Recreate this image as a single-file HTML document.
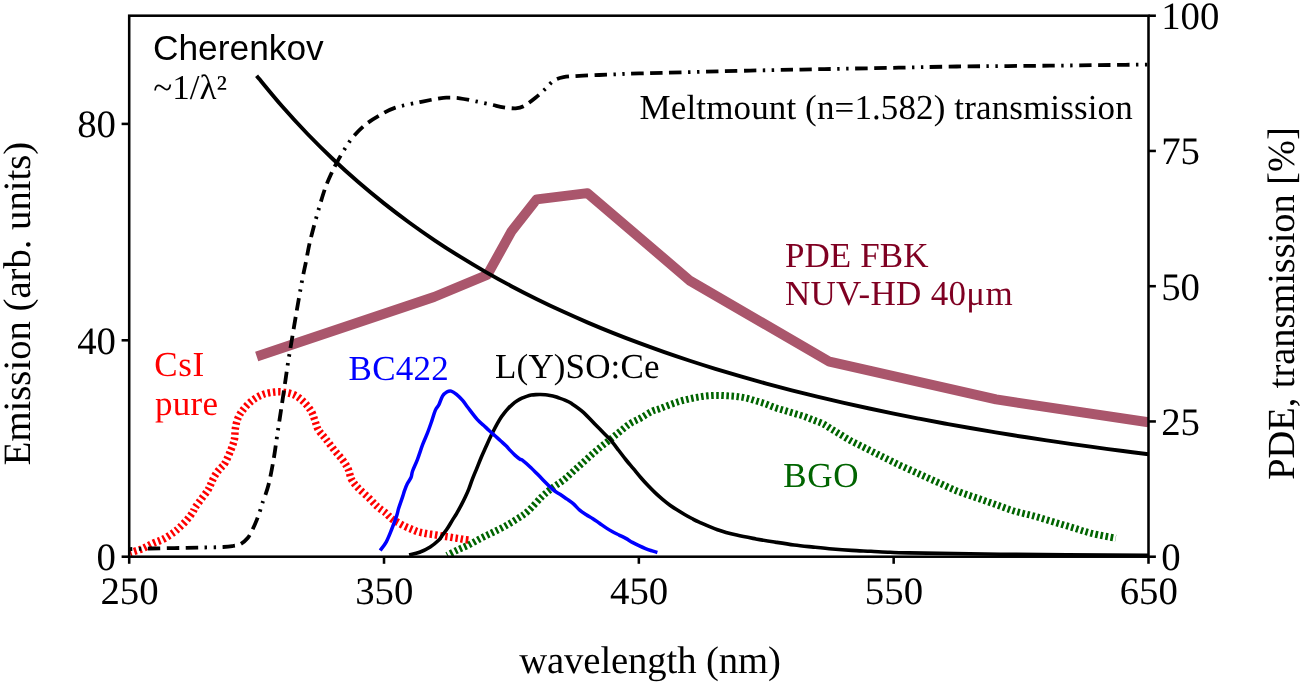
<!DOCTYPE html>
<html><head><meta charset="utf-8"><style>
html,body{margin:0;padding:0;background:#fff;width:1304px;height:684px;overflow:hidden}
svg{display:block;will-change:transform}
.serif{font-family:"Liberation Serif",serif;text-rendering:geometricPrecision}
.sans{font-family:"Liberation Sans",sans-serif}
</style></head><body>
<svg width="1304" height="684" viewBox="0 0 1304 684">
<rect width="1304" height="684" fill="#fff"/>
<defs><clipPath id="ax"><rect x="129.2" y="15.7" width="1019.3" height="541"/></clipPath></defs>
<g clip-path="url(#ax)" fill="none" stroke-linejoin="round">
<path d="M256.7 356.5 L434 297 L487.5 274.7 L511.2 231.8 L536.7 199.3 L587.5 193.2 L690.2 280.9 L829.5 361.7 L996.1 399.4 L1148.5 422.3" stroke="#aa566c" stroke-width="9.9" stroke-linecap="butt"/>
<path d="M129.9 552.8 C132.02 552.08 138.72 550.1 142.6 548.5 C146.48 546.9 149.68 544.8 153.2 543.2 C156.72 541.6 160.35 540.65 163.7 538.9 C167.05 537.15 170.67 534.6 173.3 532.7 C175.93 530.8 177.3 529.55 179.5 527.5 C181.7 525.45 184.32 522.9 186.5 520.4 C188.68 517.9 191.17 514.65 192.6 512.5 C194.03 510.35 193.7 509.67 195.1 507.5 C196.5 505.33 198.93 502.3 201 499.5 C203.07 496.7 205.92 493.13 207.5 490.7 C209.08 488.27 209.52 486.97 210.5 484.9 C211.48 482.83 212.32 480.38 213.4 478.3 C214.48 476.22 215.78 474.12 217 472.4 C218.22 470.68 219.35 469.58 220.7 468 C222.05 466.42 223.4 465.92 225.1 462.9 C226.8 459.88 229.35 453.82 230.9 449.9 C232.45 445.98 233.67 442.9 234.4 439.4 C235.13 435.9 234.72 432.42 235.3 428.9 C235.88 425.38 236.58 421.52 237.9 418.3 C239.22 415.08 240.87 412.52 243.2 409.6 C245.53 406.68 248.68 403.3 251.9 400.8 C255.12 398.3 258.7 396.07 262.5 394.6 C266.3 393.13 270.9 392.37 274.7 392 C278.5 391.63 281.83 391.82 285.3 392.4 C288.77 392.98 292.33 393.82 295.5 395.5 C298.67 397.18 301.67 399.87 304.3 402.5 C306.93 405.13 309.55 408.37 311.3 411.3 C313.05 414.23 313.63 417.03 314.8 420.1 C315.97 423.17 316.53 426.63 318.3 429.7 C320.07 432.77 322.77 435.13 325.4 438.5 C328.03 441.87 331.18 446.25 334.1 449.9 C337.02 453.55 340.55 457.18 342.9 460.4 C345.25 463.62 346.73 465.98 348.2 469.2 C349.67 472.42 349.95 476.48 351.7 479.7 C353.45 482.92 355.85 485.47 358.7 488.5 C361.55 491.53 365.67 494.87 368.8 497.9 C371.93 500.93 374.68 504.2 377.5 506.7 C380.32 509.2 383.72 511.25 385.7 512.9 C387.68 514.55 388.18 515.48 389.4 516.6 C390.62 517.72 391.42 518.52 393 519.6 C394.58 520.68 396.93 521.98 398.9 523.1 C400.87 524.22 403 525.42 404.8 526.3 C406.6 527.18 408.17 527.75 409.7 528.4 C411.23 529.05 412.57 529.62 414 530.2 C415.43 530.78 416.77 531.43 418.3 531.9 C419.83 532.37 421.57 532.67 423.2 533 C424.83 533.33 426.35 533.63 428.1 533.9 C429.85 534.17 431.85 534.33 433.7 534.6 C435.55 534.87 437.47 535.22 439.2 535.5 C440.93 535.78 442.47 536.05 444.1 536.3 C445.73 536.55 447.37 536.75 449 537 C450.63 537.25 452.27 537.55 453.9 537.8 C455.53 538.05 457.17 538.23 458.8 538.5 C460.43 538.77 461.9 539.13 463.7 539.4 C465.5 539.67 468.62 539.98 469.6 540.1" stroke="#ff0000" stroke-width="7.5" stroke-dasharray="2.45 2.75" stroke-dashoffset="0.7"/>
<path d="M447 555.3 C448.75 554.42 453.8 551.77 457.5 550 C461.2 548.23 465.3 546.65 469.2 544.7 C473.1 542.75 477 540.33 480.9 538.3 C484.8 536.27 488.7 534.45 492.6 532.5 C496.5 530.55 500.4 528.75 504.3 526.6 C508.2 524.45 512.1 522.13 516 519.6 C519.9 517.07 523.38 515.22 527.7 511.4 C532.02 507.58 537.7 500.68 541.9 496.7 C546.1 492.72 549.23 490.32 552.9 487.5 C556.57 484.68 560.25 482.73 563.9 479.8 C567.55 476.87 571.15 473.2 574.8 469.9 C578.45 466.6 582.13 463.28 585.8 460 C589.47 456.72 593.15 453.3 596.8 450.2 C600.45 447.1 604.05 444.33 607.7 441.4 C611.35 438.47 615.05 435.52 618.7 432.6 C622.35 429.68 625.95 426.32 629.6 423.9 C633.25 421.48 636.93 420.17 640.6 418.1 C644.27 416.03 648.37 413.08 651.6 411.5 C654.83 409.92 657 409.72 660 408.6 C663 407.48 666.4 405.98 669.6 404.8 C672.8 403.62 676 402.47 679.2 401.5 C682.4 400.53 685.62 399.73 688.8 399 C691.98 398.27 695.12 397.63 698.3 397.1 C701.48 396.57 704.7 396.08 707.9 395.8 C711.1 395.52 714.3 395.4 717.5 395.4 C720.7 395.4 723.9 395.62 727.1 395.8 C730.3 395.98 733.5 396.12 736.7 396.5 C739.9 396.88 743.1 397.37 746.3 398.1 C749.5 398.83 752.72 399.95 755.9 400.9 C759.08 401.85 762.22 402.68 765.4 403.8 C768.58 404.92 771.8 406.48 775 407.6 C778.2 408.72 781.4 409.53 784.6 410.5 C787.8 411.47 791 412.43 794.2 413.4 C797.4 414.37 800.6 415.18 803.8 416.3 C807 417.42 810.2 418.83 813.4 420.1 C816.6 421.37 819.82 422.3 823 423.9 C826.18 425.5 829.32 427.75 832.5 429.7 C835.68 431.65 838.9 433.67 842.1 435.6 C845.3 437.53 848.5 439.55 851.7 441.3 C854.9 443.05 858.1 444.5 861.3 446.1 C864.5 447.7 867.7 449.3 870.9 450.9 C874.1 452.5 877.3 454.1 880.5 455.7 C883.7 457.3 886.85 458.9 890.1 460.5 C893.35 462.1 895.15 463.05 900 465.3 C904.85 467.55 912.82 471.12 919.2 474 C925.58 476.88 931.92 479.73 938.3 482.6 C944.68 485.47 951.1 488.65 957.5 491.2 C963.9 493.75 970.3 495.67 976.7 497.9 C983.1 500.13 989.52 502.37 995.9 504.6 C1002.28 506.83 1008.62 509.38 1015 511.3 C1021.38 513.22 1027.8 514.33 1034.2 516.1 C1040.6 517.87 1047.02 519.98 1053.4 521.9 C1059.78 523.82 1066.12 525.68 1072.5 527.6 C1078.88 529.52 1084.5 531.63 1091.7 533.4 C1098.9 535.17 1111.7 537.4 1115.7 538.2" stroke="#006400" stroke-width="7" stroke-dasharray="2.55 2.53" stroke-dashoffset="1.24"/>
<path d="M409.1 554.9 C410.85 554.47 416.08 553.62 419.6 552.3 C423.12 550.98 426.98 549.05 430.2 547 C433.42 544.95 436.97 541.82 438.9 540 C440.83 538.18 440.45 537.92 441.8 536.1 C443.15 534.28 445.25 531.72 447 529.1 C448.75 526.48 450.68 523.03 452.3 520.4 C453.92 517.77 455.23 515.8 456.7 513.3 C458.17 510.8 459.65 508.17 461.1 505.4 C462.55 502.63 464.1 499.47 465.4 496.7 C466.7 493.93 467.75 491.68 468.9 488.8 C470.05 485.92 470.97 482.85 472.3 479.4 C473.63 475.95 475.37 471.87 476.9 468.1 C478.43 464.33 480.05 460.22 481.5 456.8 C482.95 453.38 484.23 450.67 485.6 447.6 C486.97 444.53 488.33 441.3 489.7 438.4 C491.07 435.5 492.53 432.67 493.8 430.2 C495.07 427.73 496.13 425.68 497.3 423.6 C498.47 421.52 499.62 419.5 500.8 417.7 C501.98 415.9 503.22 414.3 504.4 412.8 C505.58 411.3 506.55 410.12 507.9 408.7 C509.25 407.28 510.95 405.62 512.5 404.3 C514.05 402.98 515.63 401.82 517.2 400.8 C518.77 399.78 520.33 398.93 521.9 398.2 C523.47 397.47 525.03 396.92 526.6 396.4 C528.17 395.88 529.75 395.4 531.3 395.1 C532.85 394.8 534.35 394.7 535.9 394.6 C537.45 394.5 539.03 394.47 540.6 394.5 C542.17 394.53 543.73 394.63 545.3 394.8 C546.87 394.97 548.45 395.23 550 395.5 C551.55 395.77 553.3 396.07 554.6 396.4 C555.9 396.73 556.08 396.88 557.8 397.5 C559.52 398.12 562.58 399.08 564.9 400.1 C567.22 401.12 568.62 401.57 571.7 403.6 C574.78 405.63 579.22 408.55 583.4 412.3 C587.58 416.05 592.75 421.98 596.8 426.1 C600.85 430.22 605.25 434.52 607.7 437 C610.15 439.48 609.65 438.75 611.5 441 C613.35 443.25 616.37 447.33 618.8 450.5 C621.23 453.67 623.67 456.97 626.1 460 C628.53 463.03 630.97 465.78 633.4 468.7 C635.83 471.62 638.27 474.68 640.7 477.5 C643.13 480.32 645.57 483.03 648 485.6 C650.43 488.17 652.87 490.6 655.3 492.9 C657.73 495.2 660.15 497.33 662.6 499.4 C665.05 501.47 667.55 503.52 670 505.3 C672.45 507.08 674.87 508.57 677.3 510.1 C679.73 511.63 682.17 513.1 684.6 514.5 C687.03 515.9 689.47 517.23 691.9 518.5 C694.33 519.77 694.93 520.23 699.2 522.1 C703.47 523.97 711.25 527.53 717.5 529.7 C723.75 531.87 730.3 533.57 736.7 535.1 C743.1 536.63 749.52 537.73 755.9 538.9 C762.28 540.07 768.62 541.08 775 542.1 C781.38 543.12 787.8 544.17 794.2 545 C800.6 545.83 807.02 546.43 813.4 547.1 C819.78 547.77 826.12 548.45 832.5 549 C838.88 549.55 845.3 550.02 851.7 550.4 C858.1 550.78 864.5 550.98 870.9 551.3 C877.3 551.62 883.72 552.03 890.1 552.3 C896.48 552.57 890.88 552.58 909.2 552.9 C927.52 553.22 960.12 553.82 1000 554.2 C1039.88 554.58 1123.75 555.03 1148.5 555.2" stroke="#000" stroke-width="3.6"/>
<path d="M380.2 550.5 C381.22 549.05 384.4 545.3 386.3 541.8 C388.2 538.3 389.85 533.9 391.6 529.5 C393.35 525.1 395.63 518.9 396.8 515.4 C397.97 511.9 397.67 511.5 398.6 508.5 C399.53 505.5 401.37 500.5 402.4 497.4 C403.43 494.3 403.98 492.18 404.8 489.9 C405.62 487.62 406.27 485.77 407.3 483.7 C408.33 481.63 410.12 479.62 411 477.5 C411.88 475.38 411.52 474.03 412.6 471 C413.68 467.97 415.82 463.73 417.5 459.3 C419.18 454.87 421.03 448.8 422.7 444.4 C424.37 440 425.97 436.87 427.5 432.9 C429.03 428.93 430.58 424.4 431.9 420.6 C433.22 416.8 434.23 412.73 435.4 410.1 C436.57 407.47 437.72 407.13 438.9 404.8 C440.08 402.47 441.18 398.23 442.5 396.1 C443.82 393.97 445.35 392.83 446.8 392 C448.25 391.17 449.58 390.72 451.2 391.1 C452.82 391.48 454.6 392.75 456.5 394.3 C458.4 395.85 460.7 398.2 462.6 400.4 C464.5 402.6 465.43 404.3 467.9 407.5 C470.37 410.7 474.8 416.65 477.4 419.6 C480 422.55 481.55 423.38 483.5 425.2 C485.45 427.02 487.18 428.73 489.1 430.5 C491.02 432.27 493.05 434.05 495 435.8 C496.95 437.55 498.97 439.33 500.8 441 C502.63 442.67 504.43 444.23 506 445.8 C507.57 447.37 508.72 448.85 510.2 450.4 C511.68 451.95 513.27 453.63 514.9 455.1 C516.53 456.57 518.77 458.37 520 459.2 C521.23 460.03 520.47 458.68 522.3 460.1 C524.13 461.52 527.73 464.6 531 467.7 C534.27 470.8 538.25 475.05 541.9 478.7 C545.55 482.35 549.88 487 552.9 489.6 C555.92 492.2 557.72 492.75 560 494.3 C562.28 495.85 564.4 497.35 566.6 498.9 C568.8 500.45 571.02 501.73 573.2 503.6 C575.38 505.47 577.52 508.25 579.7 510.1 C581.88 511.95 584.1 513.27 586.3 514.7 C588.5 516.13 590.7 517.27 592.9 518.7 C595.1 520.13 597.3 521.77 599.5 523.3 C601.7 524.83 603.92 526.48 606.1 527.9 C608.28 529.32 610.42 530.6 612.6 531.8 C614.78 533 617 534 619.2 535.1 C621.4 536.2 623.6 537.18 625.8 538.4 C628 539.62 630.22 541.18 632.4 542.4 C634.58 543.62 636.72 544.67 638.9 545.7 C641.08 546.73 643.3 547.73 645.5 548.6 C647.7 549.47 650.12 550.25 652.1 550.9 C654.08 551.55 656.52 552.23 657.4 552.5" stroke="#0000ff" stroke-width="3.5"/>
<path d="M256.61 75.75 C260.86 80.84 273.6 96.57 282.1 106.28 C290.59 115.99 299.08 125.17 307.58 133.99 C316.07 142.81 324.57 151.18 333.06 159.22 C341.55 167.27 350.05 174.9 358.54 182.26 C367.04 189.61 375.53 196.61 384.02 203.35 C392.52 210.09 401.01 216.51 409.51 222.71 C418 228.9 426.5 234.81 434.99 240.52 C443.48 246.22 451.98 251.67 460.47 256.94 C468.97 262.21 477.46 267.24 485.95 272.11 C494.45 276.99 502.94 281.65 511.44 286.17 C519.93 290.68 528.43 295.01 536.92 299.2 C545.41 303.39 553.91 307.42 562.4 311.32 C570.9 315.22 579.39 318.96 587.88 322.6 C596.38 326.23 604.87 329.73 613.37 333.12 C621.86 336.51 630.36 339.78 638.85 342.94 C647.34 346.11 655.84 349.17 664.33 352.14 C672.83 355.11 681.32 357.97 689.82 360.75 C698.31 363.53 706.8 366.22 715.3 368.83 C723.79 371.44 732.29 373.96 740.78 376.42 C749.27 378.87 757.77 381.25 766.26 383.56 C774.76 385.87 783.25 388.1 791.74 390.28 C800.24 392.46 808.73 394.57 817.23 396.62 C825.72 398.67 834.22 400.66 842.71 402.6 C851.2 404.54 859.7 406.43 868.19 408.26 C876.69 410.09 885.18 411.87 893.67 413.61 C902.17 415.34 910.66 417.03 919.16 418.67 C927.65 420.32 936.15 421.91 944.64 423.47 C953.13 425.03 961.63 426.55 970.12 428.03 C978.62 429.51 987.11 430.95 995.61 432.35 C1004.1 433.76 1012.59 435.13 1021.09 436.46 C1029.58 437.8 1038.08 439.1 1046.57 440.37 C1055.06 441.64 1063.56 442.88 1072.05 444.09 C1080.55 445.31 1089.04 446.49 1097.54 447.64 C1106.03 448.8 1114.52 449.92 1123.02 451.02 C1131.51 452.12 1144.25 453.71 1148.5 454.25" stroke="#000" stroke-width="3.9"/>
<path d="M129.9 549.1 C133.17 549 142.13 548.67 149.5 548.5 C156.87 548.33 165.92 548.25 174.1 548.1 C182.28 547.95 190.42 547.78 198.6 547.6 C206.78 547.42 217.47 547.27 223.2 547 C228.93 546.73 230.15 546.47 233 546 C235.85 545.53 237.85 545.53 240.3 544.2 C242.75 542.87 245.65 540.47 247.7 538 C249.75 535.53 251.07 532.47 252.6 529.4 C254.13 526.33 255.67 522.67 256.9 519.6 C258.13 516.53 259.08 513.75 260 511 C260.92 508.25 261 507.38 262.4 503.1 C263.8 498.82 266.52 492.67 268.4 485.3 C270.28 477.93 272.17 467.68 273.7 458.9 C275.23 450.12 276.28 441.37 277.6 432.6 C278.92 423.83 280.28 415.07 281.6 406.3 C282.92 397.53 284.47 387.03 285.5 380 C286.53 372.97 286.83 370.27 287.8 364.1 C288.77 357.93 289.93 351.18 291.3 343 C292.67 334.82 294.25 325.13 296 315 C297.75 304.87 300.17 290.93 301.8 282.2 C303.43 273.47 304.55 268.85 305.8 262.6 C307.05 256.35 308.03 250.43 309.3 244.7 C310.57 238.97 311.73 234.47 313.4 228.2 C315.07 221.93 317.35 213.73 319.3 207.1 C321.25 200.47 323.15 193.87 325.1 188.4 C327.05 182.93 329.05 178.6 331 174.3 C332.95 170 334.47 166.9 336.8 162.6 C339.13 158.3 342.27 152.8 345 148.5 C347.73 144.2 349.88 140.7 353.2 136.8 C356.52 132.9 360.6 128.6 364.9 125.1 C369.2 121.6 373.92 118.72 379 115.8 C384.08 112.88 388.58 109.88 395.4 107.6 C402.22 105.32 412.5 103.65 419.9 102.1 C427.3 100.55 435.15 99.03 439.8 98.3 C444.45 97.57 444.47 97.7 447.8 97.7 C451.13 97.7 455.15 97.7 459.8 98.3 C464.45 98.9 470.38 100.23 475.7 101.3 C481.02 102.37 487.05 103.7 491.7 104.7 C496.35 105.7 499.62 106.7 503.6 107.3 C507.58 107.9 512.27 108.47 515.6 108.3 C518.93 108.13 520.28 108.07 523.6 106.3 C526.92 104.53 531.85 100.62 535.5 97.7 C539.15 94.78 542.5 91.62 545.5 88.8 C548.5 85.98 550.5 82.73 553.5 80.8 C556.5 78.87 559.18 78.03 563.5 77.2 C567.82 76.37 573.43 76.17 579.4 75.8 C585.37 75.43 592.65 75.27 599.3 75 C605.95 74.73 612.65 74.47 619.3 74.2 C625.95 73.93 617.4 74 639.2 73.4 C661 72.8 719.23 71.32 750.1 70.6 C780.97 69.88 799.65 69.58 824.4 69.1 C849.15 68.62 876.52 68.13 898.6 67.7 C920.68 67.27 931.72 66.83 956.9 66.5 C982.08 66.17 1021.58 65.98 1049.7 65.7 C1077.82 65.42 1109.13 64.98 1125.6 64.8 C1142.07 64.62 1144.68 64.63 1148.5 64.6" stroke="#000" stroke-width="3.8" stroke-dasharray="12.45 6.5 12.45 6.5 12.45 6.5 2.4 6.5 2.4 6.5" stroke-dashoffset="56.7"/>
</g>
<g stroke="#000" stroke-width="2.55" fill="none">
<rect x="129.2" y="15.7" width="1019.3" height="541" stroke-linejoin="miter"/>
<line x1="129.2" y1="556.7" x2="129.2" y2="563.8"/><line x1="384.02" y1="556.7" x2="384.02" y2="563.8"/><line x1="638.85" y1="556.7" x2="638.85" y2="563.8"/><line x1="893.67" y1="556.7" x2="893.67" y2="563.8"/><line x1="1148.5" y1="556.7" x2="1148.5" y2="563.8"/><line x1="121.6" y1="556.7" x2="129.2" y2="556.7"/><line x1="121.6" y1="340.3" x2="129.2" y2="340.3"/><line x1="121.6" y1="123.9" x2="129.2" y2="123.9"/><line x1="1148.5" y1="556.7" x2="1155.9" y2="556.7"/><line x1="1148.5" y1="421.45" x2="1155.9" y2="421.45"/><line x1="1148.5" y1="286.2" x2="1155.9" y2="286.2"/><line x1="1148.5" y1="150.95" x2="1155.9" y2="150.95"/><line x1="1148.5" y1="15.7" x2="1155.9" y2="15.7"/>
</g>
<g class="serif" font-size="38.8" fill="#000"><text x="129.5" y="603.7" text-anchor="middle">250</text><text x="384.32" y="603.7" text-anchor="middle">350</text><text x="639.15" y="603.7" text-anchor="middle">450</text><text x="893.97" y="603.7" text-anchor="middle">550</text><text x="1148.8" y="603.7" text-anchor="middle">650</text><text x="116" y="570.15" text-anchor="end">0</text><text x="116" y="353.75" text-anchor="end">40</text><text x="116" y="137.35" text-anchor="end">80</text><text x="1161.2" y="570.15">0</text><text x="1161.2" y="434.9">25</text><text x="1161.2" y="299.65">50</text><text x="1161.2" y="164.4">75</text><text x="1161.2" y="29.15">100</text></g>
<text id="cher" class="sans" font-size="35.3" fill="#000" transform="translate(153 59.7)">Cherenkov</text><text id="lam" class="serif" font-size="35" fill="#000" transform="translate(153.3 98.7)">~1/λ²</text><text id="melt" class="serif" font-size="35" fill="#000" transform="translate(639.6 118.6)" textLength="493.07" lengthAdjust="spacing">Meltmount (n=1.582) transmission</text><text id="pde1" class="serif" font-size="35" fill="#7f0022" transform="translate(784.9 266.6)" textLength="143.54" lengthAdjust="spacing">PDE FBK</text><text id="pde2" class="serif" font-size="35" fill="#7f0022" transform="translate(784.9 305.3)" textLength="227.76" lengthAdjust="spacing">NUV-HD 40μm</text><text id="csi" class="serif" font-size="35" fill="#ff0000" transform="translate(154.34 376)" textLength="49.8" lengthAdjust="spacing">CsI</text><text id="pure" class="serif" font-size="35" fill="#ff0000" transform="translate(154.9 414.5)" textLength="63.16" lengthAdjust="spacing">pure</text><text id="bc" class="serif" font-size="35" fill="#0000ff" transform="translate(348.5 380.05)" textLength="100.29" lengthAdjust="spacing">BC422</text><text id="lyso" class="serif" font-size="35" fill="#000" transform="translate(495.1 377.5)" textLength="164.4" lengthAdjust="spacing">L(Y)SO:Ce</text><text id="bgo" class="serif" font-size="35" fill="#006400" transform="translate(783.15 486.8)" textLength="75.49" lengthAdjust="spacing">BGO</text><text id="xl" class="serif" font-size="38.7" fill="#000" transform="translate(519.2 672.7)" textLength="261.7" lengthAdjust="spacing">wavelength (nm)</text><text id="yl" class="serif" font-size="38.7" fill="#000" transform="translate(30.2 465.2) rotate(-90)">Emission (arb. units)</text><text id="rl" class="serif" font-size="38.35" fill="#000" transform="translate(1293.7 479.7) rotate(-90)">PDE, transmission [%]</text>
</svg>
</body></html>
